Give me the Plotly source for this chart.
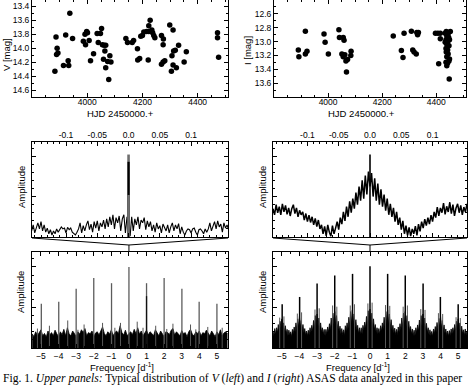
import plotly.graph_objects as go

W, H = 474, 386

# ---------------- data ----------------
v_hjd = [3883, 3887, 3891, 3889, 3894, 3937, 3922, 3914, 3931, 3933, 3947,
         3986, 3992, 3998, 4001, 3994, 4007, 4012, 4023, 4036, 4048, 4052, 4040,
         4055, 4061, 4067, 4064, 4059, 4067, 4074, 4082, 4086, 4078,
         4140, 4146, 4163, 4168, 4182, 4183, 4190, 4194, 4200, 4205, 4215, 4223,
         4228, 4223, 4234, 4237, 4241, 4245, 4221, 4269, 4276, 4275, 4269, 4275,
         4281, 4299, 4311, 4307, 4305, 4313, 4319, 4311, 4323, 4331, 4351, 4359,
         4472, 4472, 4476]
v_mag = [14.33, 13.84, 14.00, 14.09, 14.07, 13.50, 13.81, 14.25, 14.18, 14.25, 13.86,
         13.90, 13.80, 13.76, 13.78, 13.95, 13.89, 14.18, 14.08, 13.79, 13.79, 13.72, 13.92,
         13.95, 13.96, 13.96, 14.04, 14.16, 14.28, 14.19, 14.11, 14.20, 14.45,
         13.86, 13.92, 13.92, 13.89, 14.01, 14.17, 14.15, 13.83, 13.82, 13.77, 13.76, 13.68,
         13.60, 13.76, 13.74, 13.78, 13.82, 13.85, 14.17, 13.82, 13.87, 13.95, 14.23, 14.20,
         14.18, 13.67, 13.74, 14.11, 14.33, 14.04, 14.03, 14.24, 14.28, 13.96, 14.20, 14.05,
         13.78, 13.85, 14.13]

i_hjd = [3890, 3892, 3916, 3916, 3922, 3985, 3989, 4001, 4040, 4042, 4056, 4059,
         4051, 4056, 4062, 4066, 4072, 4068, 4085, 4084,
         4241, 4271, 4277, 4281, 4308, 4313, 4318, 4326, 4328, 4331, 4334,
         4397, 4406, 4415, 4415, 4409,
         4437, 4443, 4439, 4446, 4436, 4442, 4439, 4447, 4436, 4442, 4437, 4444,
         4439, 4449, 4436, 4442, 4439, 4447, 4433, 4449, 4443, 4448, 4433, 4452]
i_mag = [13.12, 13.22, 12.85, 13.18, 13.14, 12.89, 13.01, 13.18, 12.83, 12.94, 12.94, 12.98,
         13.18, 13.22, 13.19, 13.28, 13.26, 13.44, 13.14, 13.20,
         12.92, 13.13, 13.23, 12.88, 12.85, 13.12, 13.15, 13.18, 12.87, 12.90, 12.87,
         12.88, 12.88, 12.88, 12.96, 13.32,
         12.855, 12.88, 12.92, 12.94, 12.975, 13.01, 13.04, 13.06, 13.10, 13.12, 13.15, 13.18,
         13.22, 13.25, 13.30, 13.31, 13.35, 13.28, 13.01, 12.975, 12.90, 13.54, 12.88, 12.855]

# zoomed spectral windows (middle panels), sampled from zoom_f0 in steps of zoom_df
zoom_f0 = -0.155
zoom_df = 0.0025
ml_amp = [0.15, 0.3, 0.1, 0.25, 0.35, 0.2, 0.38, 0.15, 0.3, 0.12, 0.22, 0.08, 0.18,
          0.05, 0.15, 0.08, 0.2, 0.12,
          0.18, 0.25, 0.2, 0.22, 0.1, 0.24, 0.18, 0.22, 0.12, 0.08,
          0.05, 0.12,
          0.2, 0.35, 0.1, 0.28, 0.15, 0.3, 0.4, 0.18, 0.32, 0.12, 0.38, 0.22, 0.4, 0.15, 0.35, 0.25, 0.42, 0.2,
          0.45, 0.25, 0.5, 0.3, 0.55, 0.2, 0.48, 0.35, 0.52, 0.15, 0.45, 0.55, 0.1, 0.5,
          0.3,
          0.02, 0.5, 0.15, 0.45, 0.3, 0.5, 0.2, 0.42, 0.35, 0.48, 0.18, 0.4,
          0.25, 0.38, 0.15, 0.3, 0.12, 0.35, 0.2, 0.28, 0.1, 0.32, 0.22, 0.15, 0.3, 0.1, 0.25,
          0.35, 0.15, 0.3, 0.2, 0.33, 0.08, 0.25, 0.12,
          0.05, 0.15, 0.2, 0.18, 0.1, 0.2, 0.22, 0.12, 0.05, 0.18, 0.2, 0.15, 0.08, 0.2, 0.12,
          0.2, 0.35, 0.15, 0.3, 0.38, 0.2, 0.4, 0.25, 0.32, 0.12, 0.35, 0.22, 0.3, 0.18]
mr_amp = [0.7, 0.55, 0.8, 0.6, 0.75, 0.55, 0.82, 0.62, 0.78, 0.56, 0.72, 0.52, 0.7, 0.8, 0.58, 0.72, 0.5, 0.66,
          0.55, 0.62, 0.42, 0.58, 0.38, 0.54, 0.36, 0.5, 0.3, 0.46, 0.26, 0.42, 0.2,
          0.3, 0.08, 0.26, 0.03, 0.3, 0.12, 0.02, 0.28, 0.08, 0.22,
          0.38, 0.18, 0.48, 0.32, 0.62, 0.4, 0.75, 0.5, 0.88, 0.6,
          0.95, 0.7, 1.1, 0.8, 1.25, 0.9, 1.4, 0.95, 1.52, 1.05, 1.62,
          1.25,
          1.58, 1.0, 1.45, 0.9, 1.32, 0.8, 1.18, 0.75, 1.05, 0.65, 0.95, 0.55,
          0.82, 0.5, 0.72, 0.38, 0.62, 0.3, 0.48, 0.18, 0.4, 0.08, 0.28,
          0.04, 0.24, 0.02, 0.2, 0.08, 0.27, 0.04, 0.32, 0.14,
          0.38, 0.22, 0.44, 0.28, 0.48, 0.32, 0.54, 0.38,
          0.62, 0.48, 0.74, 0.52, 0.72, 0.6, 0.84, 0.56, 0.76, 0.62, 0.86, 0.58, 0.8, 0.52, 0.72, 0.82,
          0.6, 0.78, 0.55, 0.74, 0.62, 0.82, 0.58, 0.7]
ml_peak = [2.04, 1.86, 1.04]   # grey top, black middle, grey lower part of the central peak
mr_peak = 2.04

# wide spectral windows (bottom panels)
wide_f0 = -5.5
bl_df = 0.1
bl_band = [0.35, 0.28, 0.4, 0.3, 0.38, 0.45, 0.3, 0.36, 0.27, 0.42,
           0.32, 0.38, 0.3, 0.44, 0.35, 0.28, 0.4, 0.33, 0.46, 0.3,
           0.5, 0.35, 0.3, 0.42, 0.36, 0.28, 0.4, 0.34, 0.45, 0.38,
           0.48, 0.3, 0.38, 0.35, 0.42, 0.28, 0.37, 0.4, 0.32, 0.44,
           0.52, 0.36, 0.3, 0.4, 0.34, 0.45, 0.3, 0.38, 0.42, 0.35,
           0.55, 0.38, 0.32, 0.44, 0.3, 0.36, 0.4, 0.33, 0.46, 0.35,
           0.5, 0.34, 0.42, 0.3, 0.38, 0.44, 0.32, 0.4, 0.36, 0.3,
           0.45, 0.36, 0.3, 0.42, 0.35, 0.28, 0.4, 0.38, 0.33, 0.44,
           0.48, 0.32, 0.4, 0.36, 0.3, 0.43, 0.35, 0.38, 0.28, 0.4,
           0.46, 0.34, 0.3, 0.4, 0.36, 0.42, 0.3, 0.38, 0.35, 0.44,
           0.38, 0.3, 0.42, 0.35, 0.28, 0.4, 0.33, 0.45, 0.3, 0.37,
           0.4, 0.35]
br_df = 0.05
br_band = [
    0.42, 0.3, 0.48, 0.34, 0.5, 0.38, 0.58, 0.42, 0.66, 0.5, 0.72, 0.48, 0.62, 0.4, 0.55, 0.36, 0.46, 0.3, 0.44, 0.32,
    0.4, 0.28, 0.46, 0.36, 0.52, 0.4, 0.62, 0.45, 0.72, 0.52, 0.78, 0.5, 0.68, 0.44, 0.58, 0.38, 0.48, 0.32, 0.42, 0.3,
    0.44, 0.32, 0.5, 0.38, 0.56, 0.42, 0.68, 0.5, 0.8, 0.55, 0.84, 0.52, 0.74, 0.46, 0.62, 0.4, 0.5, 0.34, 0.46, 0.3,
    0.46, 0.34, 0.52, 0.4, 0.6, 0.45, 0.74, 0.52, 0.86, 0.58, 0.9, 0.55, 0.8, 0.48, 0.66, 0.42, 0.54, 0.35, 0.48, 0.33,
    0.45, 0.3, 0.55, 0.42, 0.62, 0.46, 0.76, 0.55, 0.9, 0.6, 0.94, 0.58, 0.84, 0.5, 0.7, 0.44, 0.56, 0.36, 0.5, 0.34,
    0.5, 0.35, 0.56, 0.44, 0.64, 0.48, 0.78, 0.56, 0.92, 0.62, 0.96, 0.6, 0.86, 0.52, 0.72, 0.45, 0.58, 0.38, 0.5, 0.35,
    0.48, 0.34, 0.55, 0.42, 0.62, 0.47, 0.76, 0.54, 0.9, 0.6, 0.94, 0.57, 0.84, 0.5, 0.7, 0.43, 0.56, 0.37, 0.49, 0.33,
    0.46, 0.33, 0.52, 0.4, 0.6, 0.44, 0.74, 0.52, 0.86, 0.57, 0.9, 0.54, 0.8, 0.48, 0.66, 0.41, 0.53, 0.35, 0.47, 0.31,
    0.44, 0.31, 0.5, 0.38, 0.57, 0.42, 0.69, 0.5, 0.8, 0.54, 0.84, 0.51, 0.74, 0.45, 0.61, 0.39, 0.5, 0.33, 0.45, 0.3,
    0.41, 0.29, 0.47, 0.36, 0.53, 0.4, 0.63, 0.46, 0.73, 0.5, 0.78, 0.49, 0.68, 0.43, 0.57, 0.37, 0.47, 0.31, 0.42, 0.29,
    0.43, 0.3, 0.47, 0.35, 0.5, 0.38, 0.58, 0.43, 0.66, 0.49, 0.72, 0.47, 0.62, 0.41, 0.54, 0.36, 0.45, 0.31, 0.47, 0.33,
    0.42]

alias_freqs = [-4.98, -3.99, -3.0, -2.0, -0.99, 0.0, 1.0, 2.0, 3.01, 3.99, 5.0]
bl_alias_amp = [1.09, 1.14, 1.46, 1.73, 1.6, 2.0, 1.6, 1.73, 1.46, 1.14, 1.09]
br_alias_amp = [1.08, 1.26, 1.59, 1.79, 1.83, 2.02, 1.83, 1.79, 1.59, 1.26, 1.08]
bl_dark_freqs = [1.0]
bl_dark_amp = [1.28]
bl_side_freqs = [-4.52, -3.48, -2.55, -1.5, -0.48, 0.47, 1.52, 2.5, 3.5, 4.48,
                 -5.2, -2.9, -0.8, 0.8, 2.15, 3.8, 5.3]
bl_side_amp = [0.55, 0.68, 0.58, 0.62, 0.62, 0.65, 0.55, 0.6, 0.58, 0.52,
               0.48, 0.45, 0.5, 0.5, 0.47, 0.46, 0.5]
br_side_freqs = [-5.12, -4.88, -4.12, -3.88, -3.12, -2.88, -2.12, -1.88, -1.12, -0.88,
                 -0.12, 0.12, 0.88, 1.12, 1.88, 2.12, 2.88, 3.12, 3.88, 4.12, 4.88, 5.12]
br_side_amp = [0.75, 0.78, 0.85, 0.88, 0.95, 0.98, 1.05, 1.02, 1.05, 1.08,
               1.1, 1.12, 1.06, 1.04, 1.02, 1.05, 0.96, 0.94, 0.86, 0.84, 0.76, 0.74]

zoom_ticks = [-0.1, -0.05, 0.0, 0.05, 0.1]
zoom_ticktext = ["-0.1", "-0.05", "0.0", "0.05", "0.1"]
wide_ticks = [-5, -4, -3, -2, -1, 0, 1, 2, 3, 4, 5]

# ---------------- layout geometry (pixels) ----------------
panels = {
    "TL": (32, 228, 0, 97),
    "TR": (274, 466, 0, 97),
    "ML": (32, 228, 142, 237),
    "MR": (273, 467, 142, 237),
    "BL": (32, 228, 252, 348),
    "BR": (273, 467, 252, 348),
}


def dom(p):
    x0, x1, y0, y1 = panels[p]
    return [x0 / W, x1 / W], [1 - y1 / H, 1 - y0 / H]


FONT = "Liberation Sans, Arial, sans-serif"
fig = go.Figure()


def spikes(freqs, amps):
    xs, ys = [], []
    for f, a in zip(freqs, amps):
        xs += [f, f, None]
        ys += [0, a, None]
    return xs, ys


ml_f = [zoom_f0 + k * zoom_df for k in range(len(ml_amp))]
mr_f = [zoom_f0 + k * zoom_df for k in range(len(mr_amp))]
bl_f = [wide_f0 + k * bl_df for k in range(len(bl_band))]
br_f = [wide_f0 + k * br_df for k in range(len(br_band))]

# Top panels
fig.add_trace(go.Scatter(x=v_hjd, y=v_mag, mode="markers", xaxis="x", yaxis="y",
                         marker=dict(color="black", size=5.5)))
fig.add_trace(go.Scatter(x=i_hjd, y=i_mag, mode="markers", xaxis="x2", yaxis="y2",
                         marker=dict(color="black", size=5.5)))

# Middle left
fig.add_trace(go.Scatter(x=ml_f, y=ml_amp, mode="lines", xaxis="x3", yaxis="y3",
                         line=dict(color="black", width=1.1)))
sx, sy = spikes([0.0], [ml_peak[0]])
fig.add_trace(go.Scatter(x=sx, y=sy, mode="lines", xaxis="x3", yaxis="y3",
                         line=dict(color="#6e6e6e", width=2.6)))
sx, sy = spikes([0.0], [ml_peak[1]])
fig.add_trace(go.Scatter(x=sx, y=sy, mode="lines", xaxis="x3", yaxis="y3",
                         line=dict(color="black", width=2.2)))
sx, sy = spikes([0.0], [ml_peak[2]])
fig.add_trace(go.Scatter(x=sx, y=sy, mode="lines", xaxis="x3", yaxis="y3",
                         line=dict(color="#6e6e6e", width=2.6)))

# Middle right
fig.add_trace(go.Scatter(x=mr_f, y=mr_amp, mode="lines", xaxis="x4", yaxis="y4",
                         line=dict(color="black", width=1.5)))
sx, sy = spikes([0.0], [mr_peak])
fig.add_trace(go.Scatter(x=sx, y=sy, mode="lines", xaxis="x4", yaxis="y4",
                         line=dict(color="black", width=1.6)))

# Bottom left
fig.add_trace(go.Scatter(x=bl_f, y=bl_band, mode="lines", fill="tozeroy",
                         fillcolor="black", xaxis="x5", yaxis="y5",
                         line=dict(color="black", width=0.8)))
sx, sy = spikes(bl_side_freqs, bl_side_amp)
fig.add_trace(go.Scatter(x=sx, y=sy, mode="lines", xaxis="x5", yaxis="y5",
                         line=dict(color="#555555", width=1.0)))
sx, sy = spikes(alias_freqs, bl_alias_amp)
fig.add_trace(go.Scatter(x=sx, y=sy, mode="lines", xaxis="x5", yaxis="y5",
                         line=dict(color="#5c5c5c", width=1.3)))
sx, sy = spikes(bl_dark_freqs, bl_dark_amp)
fig.add_trace(go.Scatter(x=sx, y=sy, mode="lines", xaxis="x5", yaxis="y5",
                         line=dict(color="#111111", width=1.3)))

# Bottom right
fig.add_trace(go.Scatter(x=br_f, y=br_band, mode="lines", fill="tozeroy",
                         fillcolor="black", xaxis="x6", yaxis="y6",
                         line=dict(color="black", width=0.8)))
sx, sy = spikes(br_side_freqs, br_side_amp)
fig.add_trace(go.Scatter(x=sx, y=sy, mode="lines", xaxis="x6", yaxis="y6",
                         line=dict(color="#5a5a5a", width=1.0)))
sx, sy = spikes(alias_freqs, br_alias_amp)
fig.add_trace(go.Scatter(x=sx, y=sy, mode="lines", xaxis="x6", yaxis="y6",
                         line=dict(color="black", width=1.5)))


def axis_style(**kw):
    d = dict(showline=True, linecolor="black", linewidth=1, mirror="ticks",
             ticks="inside", ticklen=4, tickcolor="black", tickwidth=1,
             showgrid=False, zeroline=False, automargin=False,
             tickfont=dict(family=FONT, size=8.5, color="black"))
    d.update(kw)
    return d


def minor(dt):
    return dict(ticks="inside", ticklen=2, tickcolor="black", dtick=dt, tick0=0, showgrid=False)


ranges = {
    "TL": ([3800, 4510], [14.70, 13.31]),
    "TR": ([3800, 4510], [13.80, 12.40]),
    "ML": ([-0.1544, 0.159], [0, 2.35]),
    "MR": ([-0.155, 0.155], [0, 2.35]),
    "BL": ([-5.51, 5.63], [0, 2.37]),
    "BR": ([-5.5, 5.5], [0, 2.37]),
}

layout = dict(width=W, height=H, margin=dict(l=0, r=0, t=0, b=0, pad=0, autoexpand=False),
              paper_bgcolor="white", plot_bgcolor="white", showlegend=False)

names = ["TL", "TR", "ML", "MR", "BL", "BR"]
for k, p in enumerate(names):
    xd, yd = dom(p)
    xr, yr = ranges[p]
    xa = "xaxis" if k == 0 else f"xaxis{k+1}"
    ya = "yaxis" if k == 0 else f"yaxis{k+1}"
    yanchor = "y" if k == 0 else f"y{k+1}"
    xanchor = "x" if k == 0 else f"x{k+1}"
    if p in ("TL", "TR"):
        xopt = axis_style(domain=xd, range=xr, anchor=yanchor, tickvals=[4000, 4200, 4400],
                          minor=minor(50), ticklabelstandoff=-3)
        if p == "TL":
            yt = [13.4, 13.6, 13.8, 14.0, 14.2, 14.4, 14.6]
        else:
            yt = [12.6, 12.8, 13.0, 13.2, 13.4, 13.6]
        yopt = axis_style(domain=yd, range=yr, anchor=xanchor, tickvals=yt, tickformat=".1f",
                          minor=minor(0.1))
    elif p in ("ML", "MR"):
        xopt = axis_style(domain=xd, range=xr, anchor=yanchor, side="top",
                          tickvals=zoom_ticks, ticktext=zoom_ticktext, minor=minor(0.01))
        yopt = axis_style(domain=yd, range=yr, anchor=xanchor, showticklabels=False,
                          tickvals=[1, 2], minor=minor(0.2))
    else:
        xopt = axis_style(domain=xd, range=xr, anchor=yanchor, tickvals=wide_ticks,
                          minor=minor(0.5))
        yopt = axis_style(domain=yd, range=yr, anchor=xanchor, showticklabels=False,
                          tickvals=[1, 2], minor=minor(0.2))
    layout[xa] = xopt
    layout[ya] = yopt

fig.update_layout(**layout)


def ann(text, xp, yp, size=9.5, angle=0, family=FONT, xanchor="center"):
    fig.add_annotation(text=text, x=xp / W, y=1 - yp / H, xref="paper", yref="paper",
                       showarrow=False, textangle=angle, xanchor=xanchor, yanchor="middle",
                       font=dict(family=family, size=size, color="black"))


ann("HJD 2450000.+", 120, 114)
ann("HJD 2450000.+", 361, 114)
ann("V [mag]", 6, 55, angle=-90)
ann("I [mag]", 247, 50, angle=-90)
ann("Amplitude", 22, 187, angle=-90)
ann("Amplitude", 263, 187, angle=-90)
ann("Amplitude", 20, 292, angle=-90)
ann("Amplitude", 262, 292, angle=-90)
ann("Frequency [d<sup>-1</sup>]", 122, 367)
ann("Frequency [d<sup>-1</sup>]", 358, 367)
ann("Fig. 1. <i>Upper panels:</i> Typical distribution of <i>V</i> (<i>left</i>) and <i>I</i> "
    "(<i>right</i>) ASAS data analyzed in this paper",
    1, 378, size=11.6, family="Liberation Serif, Times New Roman, serif", xanchor="left")


# zoom connector lines (middle panel -> frequency 0 of the bottom panel)
def connector(mid, bot):
    x0, x1, y0, y1 = panels[mid]
    bx0, bx1, by0, by1 = panels[bot]
    r0, r1 = ranges[bot][0]
    cx = bx0 + (0 - r0) / (r1 - r0) * (bx1 - bx0)
    jy = y1 + 8
    for sx_ in (x0, x1):
        fig.add_shape(type="line", xref="paper", yref="paper",
                      x0=sx_ / W, y0=1 - (y1 + 1) / H, x1=cx / W, y1=1 - jy / H,
                      line=dict(color="black", width=1))
    fig.add_shape(type="line", xref="paper", yref="paper",
                  x0=cx / W, y0=1 - jy / H, x1=cx / W, y1=1 - by0 / H,
                  line=dict(color="black", width=1))


connector("ML", "BL")
connector("MR", "BR")

fig.write_html("out.html", config={"displayModeBar": False},
               post_script="document.body.style.margin='0';document.body.style.padding='0';"
                           "document.body.style.overflow='hidden';")
